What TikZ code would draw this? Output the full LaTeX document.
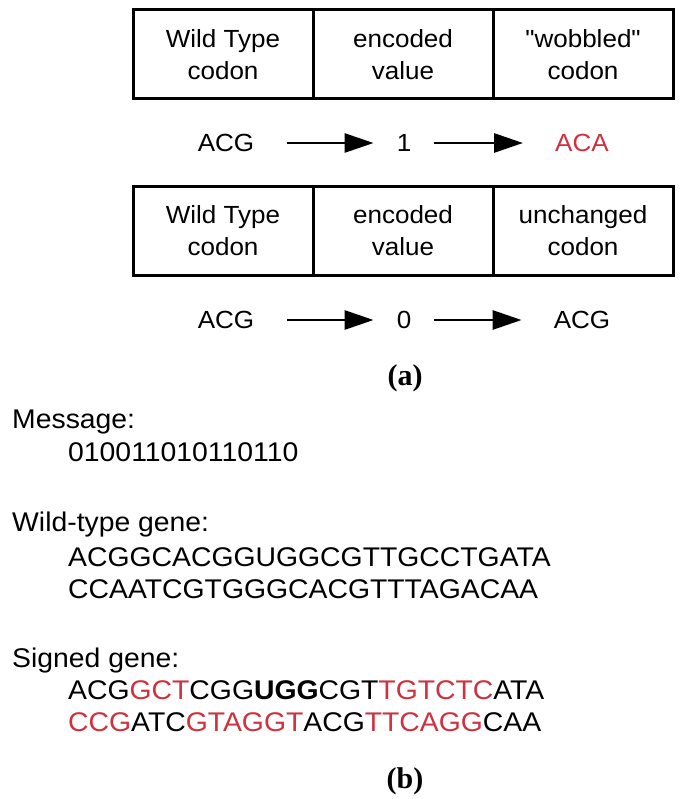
\documentclass[tikz,border=0pt]{standalone}
\usepackage{fontspec}
\setmainfont{Liberation Sans}[FakeStretch=1.05, Ligatures=TeXOff]
\newfontfamily\capfont{Liberation Serif}
\usetikzlibrary{arrows.meta}
\definecolor{wred}{RGB}{206,50,62}
\tikzset{
  cell/.style={draw, line width=3pt, minimum width=180pt, minimum height=89pt, inner sep=0pt, align=center,
    font=\fontsize{24.8}{32}\selectfont},
  rowtxt/.style={inner sep=0pt, font=\fontsize{24.8}{32}\selectfont},
  arr/.style={line width=2.8pt, -{Triangle[length=29pt,width=19pt]}},
  lbl/.style={inner sep=0pt, anchor=base west, font=\fontsize{27}{32}\selectfont},
  partcap/.style={inner sep=0pt, font=\capfont\bfseries\fontsize{30}{34}\selectfont}
}
\begin{document}
\begin{tikzpicture}[x=1pt,y=-1pt]
\useasboundingbox (0,0) rectangle (685,799);
% table 1
\node[cell] (t1a) at (223,54.5) {Wild Type\\codon};
\node[cell] (t1b) at (403,54.5) {encoded\\value};
\node[cell] (t1c) at (583,54.5) {"wobbled"\\codon};
% row 1
\node[rowtxt] (r1a) at (226,143) {ACG};
\node[rowtxt] (r1b) at (404,143) {1};
\node[rowtxt, text=wred] (r1c) at (582,143) {ACA};
\draw[arr] ([xshift=33pt]r1a.east) -- ([xshift=-23pt]r1b.west);
\draw[arr] ([xshift=23pt]r1b.east) -- ([xshift=-32pt]r1c.west);
% table 2
\node[cell] (t2a) at (223,231) {Wild Type\\codon};
\node[cell] (t2b) at (403,231) {encoded\\value};
\node[cell] (t2c) at (583,231) {unchanged\\codon};
% row 2
\node[rowtxt] (r2a) at (226,320) {ACG};
\node[rowtxt] (r2b) at (404,320) {0};
\node[rowtxt] (r2c) at (582,320) {ACG};
\draw[arr] ([xshift=33pt]r2a.east) -- ([xshift=-23pt]r2b.west);
\draw[arr] ([xshift=23pt]r2b.east) -- ([xshift=-32pt]r2c.west);
\node[partcap] (capa) at (405,378) {(a)};
% part b
\node[lbl] (msg) at (12,428) {Message:};
\node[lbl] (msgv) at (68,461) {010011010110110};
\node[lbl] (wt) at (12,531) {Wild-type gene:};
\node[lbl] (wt1) at (68,566) {ACGGCACGGUGGCGTTGCCTGATA};
\node[lbl] (wt2) at (68,598) {CCAATCGTGGGCACGTTTAGACAA};
\node[lbl] (sg) at (12,667) {Signed gene:};
\node[lbl] (sg1) at (68,699) {ACG\textcolor{wred}{GCT}CGG\textbf{UGG}CGT\textcolor{wred}{TGTCTC}ATA};
\node[lbl] (sg2) at (68,731) {\textcolor{wred}{CCG}ATC\textcolor{wred}{GTAGGT}ACG\textcolor{wred}{TTCAGG}CAA};
\node[partcap] (capb) at (405,781) {(b)};
\end{tikzpicture}
\end{document}
